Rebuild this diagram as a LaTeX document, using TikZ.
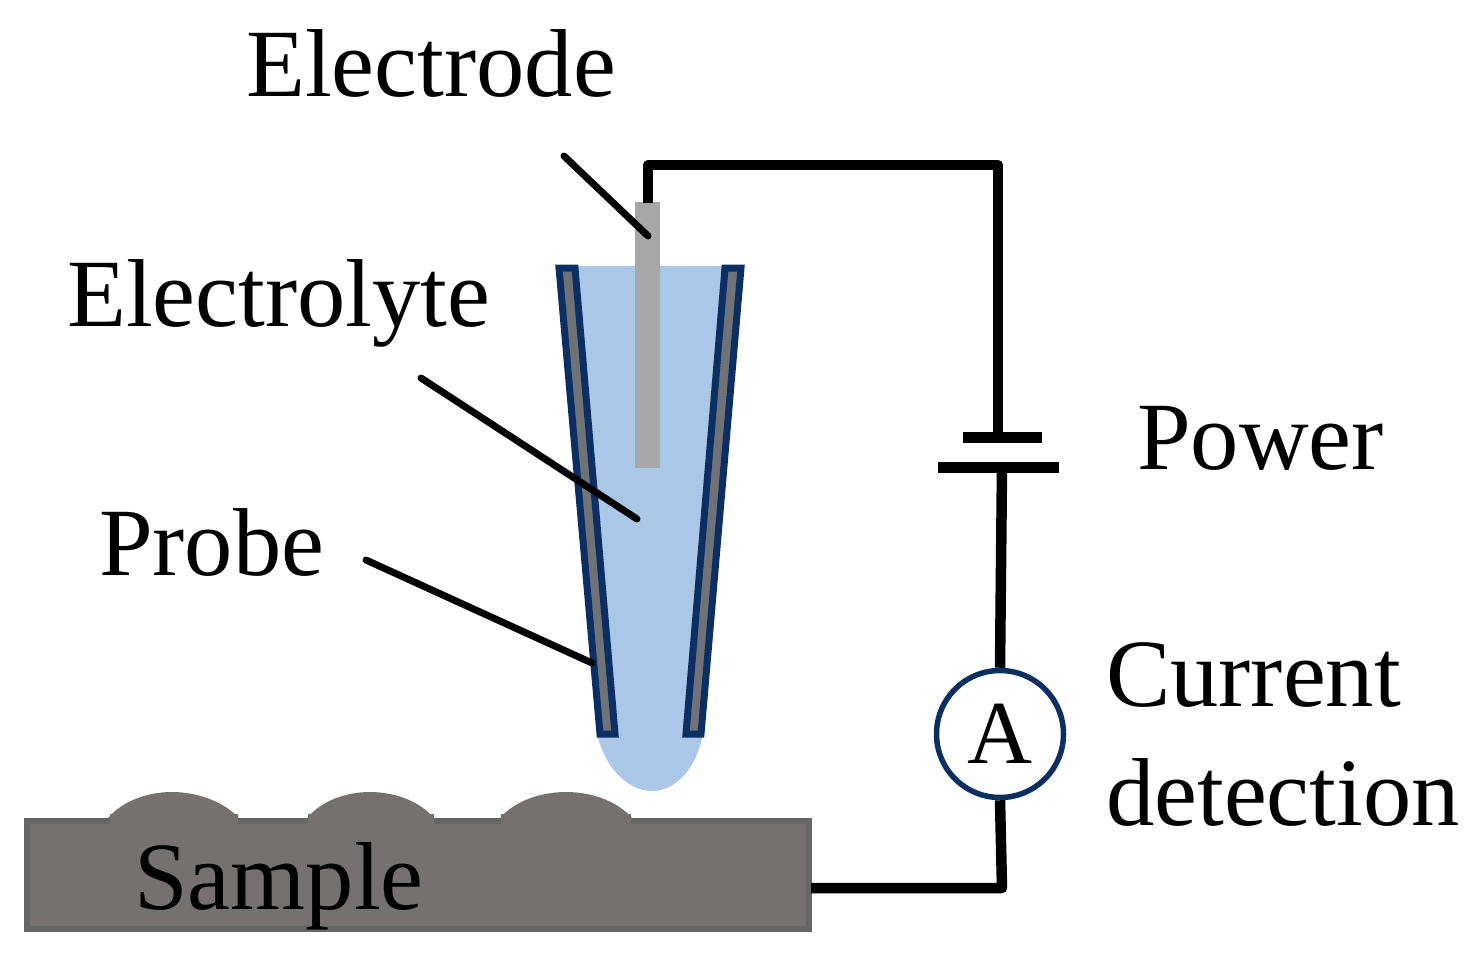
\documentclass[tikz,border=0pt]{standalone}
\usepackage{fontspec}
\setmainfont{Liberation Serif}
\definecolor{navy}{HTML}{0B2F62}
\definecolor{tube}{HTML}{6F7276}
\definecolor{liquid}{HTML}{ABC7E8}
\definecolor{rod}{HTML}{A6A6A6}
\definecolor{samp}{HTML}{767171}
\definecolor{sampedge}{HTML}{666666}
\tikzset{
  lbl/.style={inner sep=0pt,anchor=base west,text=black,font=\fontsize{96.5}{97}\selectfont},
  wire/.style={line width=10.5pt,black,line join=round},
  leader/.style={line width=7pt,black,line cap=round},
  wall/.style={draw=navy,line width=7pt,fill=tube,line join=miter},
}
\begin{document}
\begin{tikzpicture}[x=1pt,y=-1pt]
\useasboundingbox (0,0) rectangle (1481,961);
% liquid
\fill[liquid] (560,266) -- (740,266) -- (702,738) .. controls (695,770) and (675,791) .. (652,791) .. controls (629,791) and (607,770) .. (598,738) -- cycle;
% probe walls
\draw[wall] (559,268) -- (575,268) -- (615,734) -- (600,734) -- cycle;
\draw[wall] (725,268) -- (741,268) -- (701,734) -- (686,734) -- cycle;
% sample
\fill[samp] (105,822) .. controls (118,803) and (145,792) .. (172,792) .. controls (199,792) and (228,803) .. (242,822) -- cycle;
\fill[samp] (304,822) .. controls (317,803) and (343,792) .. (370,792) .. controls (397,792) and (424,803) .. (437,822) -- cycle;
\fill[samp] (497,822) .. controls (510,803) and (538,792) .. (566,792) .. controls (594,792) and (622,803) .. (635,822) -- cycle;
\node[draw=sampedge,fill=samp,line width=6pt,minimum width=782pt,minimum height=108pt,inner sep=0pt,anchor=north west] (sample) at (24,818) {};
\fill[samp] (110,814) rectangle (238,828);
\fill[samp] (308,814) rectangle (434,828);
\fill[samp] (501,814) rectangle (631,828);
% electrode
\node[fill=rod,minimum width=25pt,minimum height=266pt,inner sep=0pt,anchor=north west] (rod) at (635,202) {};
% coordinates
\coordinate (corner1) at (648,165);
\coordinate (corner2) at (998,165);
\coordinate (corner3) at (1002,888);
\coordinate (sampleend) at (811,888);
\coordinate (rodtop) at (648,203);
% battery
\coordinate (platetopL) at (963,437);
\coordinate (platetopR) at (1042,437);
\coordinate (platebotL) at (938,467);
\coordinate (platebotR) at (1059,467);
\coordinate (ptop) at (998,437);
\coordinate (pbot) at (1002,467);
\draw[line width=11pt] (platetopL) -- (platetopR);
\draw[line width=11pt] (platebotL) -- (platebotR);
% ammeter
\node[circle,draw=navy,fill=white,line width=5.5pt,minimum size=127pt,inner sep=0pt,font=\fontsize{90}{90}\selectfont,text=black] (amm) at (1000,734) {A};
% wires
\draw[wire] (rodtop) -- (corner1) -- (corner2) -- (ptop);
\draw[wire] (pbot) -- (amm.north);
\draw[wire] (amm.south) -- (corner3) -- (sampleend);
% labels
\node[lbl] (electrode) at (246,96) {Electrode};
\node[lbl] (electrolyte) at (67,326) {Electrolyte};
\node[lbl] (probe) at (99,575) {Probe};
\node[lbl] (power) at (1137,469) {Power};
\node[lbl] (current) at (1106,706) {Current};
\node[lbl] (detection) at (1106,825) {detection};
\node[lbl] (samplelabel) at (134,909) {Sample};
% leaders
\coordinate (e1) at (564,156);
\coordinate (e2) at (648,236);
\coordinate (l1) at (421,378);
\coordinate (l2) at (637,519);
\coordinate (p1) at (366,560);
\coordinate (p2) at (592,663);
\draw[leader] (e1) -- (e2);
\draw[leader] (l1) -- (l2);
\draw[leader] (p1) -- (p2);
\end{tikzpicture}
\end{document}
